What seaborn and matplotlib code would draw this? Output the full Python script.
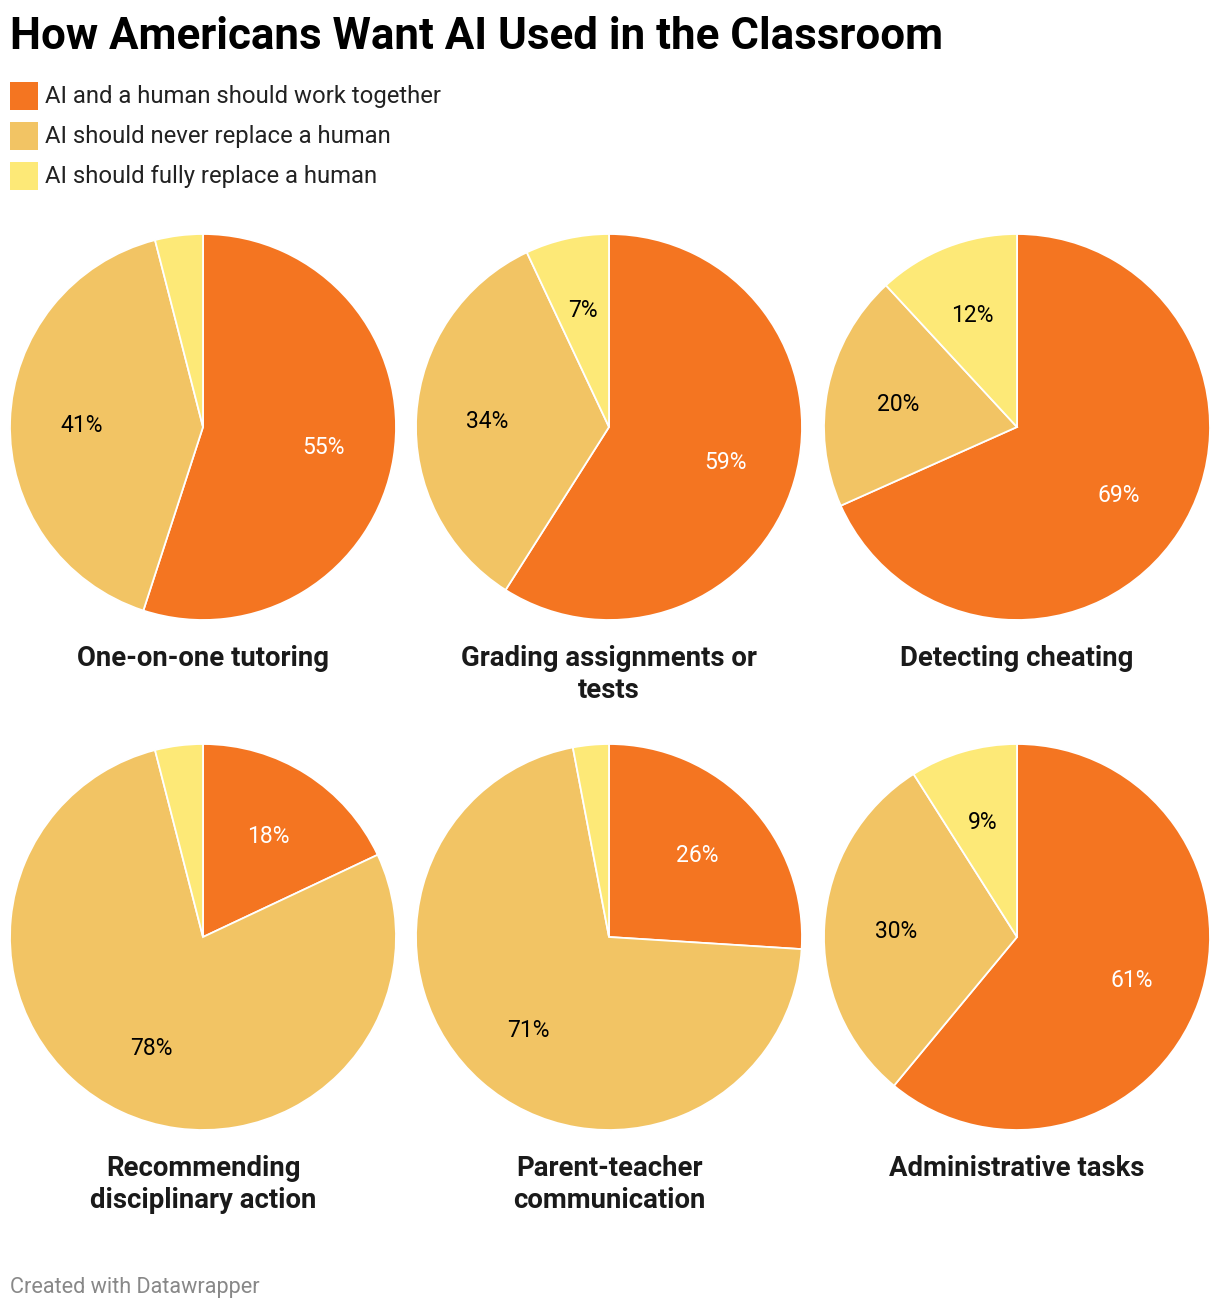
import numpy as np
import matplotlib
matplotlib.use("Agg")
import matplotlib.pyplot as plt
from matplotlib.patches import Rectangle
import seaborn as sns

categories = ["One-on-one tutoring", "Grading assignments or\ntests", "Detecting cheating",
              "Recommending\ndisciplinary action", "Parent-teacher\ncommunication", "Administrative tasks"]
series_names = ["AI and a human should work together", "AI should never replace a human",
                "AI should fully replace a human"]
work_together = [55, 59, 69, 18, 26, 61]
never_replace = [41, 34, 20, 78, 71, 30]
fully_replace = [4, 7, 12, 4, 3, 9]
colors = ["#f47521", "#f2c464", "#fde977"]
label_colors = ["white", "black", "black"]

sns.set_theme(style="white")
plt.rcParams['font.family'] = ['Roboto', 'DejaVu Sans']

W, H = 1220, 1310
fig = plt.figure(figsize=(W / 100, H / 100), dpi=100)
fig.patch.set_facecolor("white")

def fx(x):
    return x / W

def fy(y):
    return 1 - y / H

fig.text(fx(10), fy(37), "How Americans Want AI Used in the Classroom", fontsize=31.6,
         fontweight="bold", color="#000000", va="center", ha="left")

for i, name in enumerate(series_names):
    yc = 96 + 40 * i
    fig.add_artist(Rectangle((fx(10), fy(yc + 14)), 28 / W, 28 / H, transform=fig.transFigure,
                             facecolor=colors[i], edgecolor="none"))
    fig.text(fx(45), fy(yc + 1), name, fontsize=17.2, color="#222222", va="center", ha="left")

centers_x = [203, 609, 1017]
centers_y = [427, 937]
R = 193
title_y = [657, 1167]

for k, cat in enumerate(categories):
    row, col = divmod(k, 3)
    cx, cy = centers_x[col], centers_y[row]
    ax = fig.add_axes([fx(cx - R), fy(cy + R), 2 * R / W, 2 * R / H])
    vals = [work_together[k], never_replace[k], fully_replace[k]]
    wedges, _ = ax.pie(vals, colors=colors, startangle=90, counterclock=False,
                       wedgeprops=dict(edgecolor="white", linewidth=1.3), radius=1)
    for j, w in enumerate(wedges):
        if vals[j] < 5:
            continue
        th = np.deg2rad((w.theta1 + w.theta2) / 2)
        ax.text(0.63 * np.cos(th), 0.63 * np.sin(th) - 0.01, f"{vals[j]}%", ha="center", va="center",
                fontsize=16.5, color=label_colors[j])
    ax.set_xlim(-1, 1)
    ax.set_ylim(-1, 1)
    ax.set_aspect("equal")
    ax.axis("off")
    fig.text(fx(cx), fy(title_y[row] - 12), cat, fontsize=19.8, fontweight="bold", color="#1a1a1a",
             ha="center", va="top", linespacing=1.22)

fig.text(fx(10), fy(1288), "Created with Datawrapper", fontsize=15.6, color="#888888",
         va="center", ha="left")

fig.savefig("out.png", dpi=100, facecolor="white")
